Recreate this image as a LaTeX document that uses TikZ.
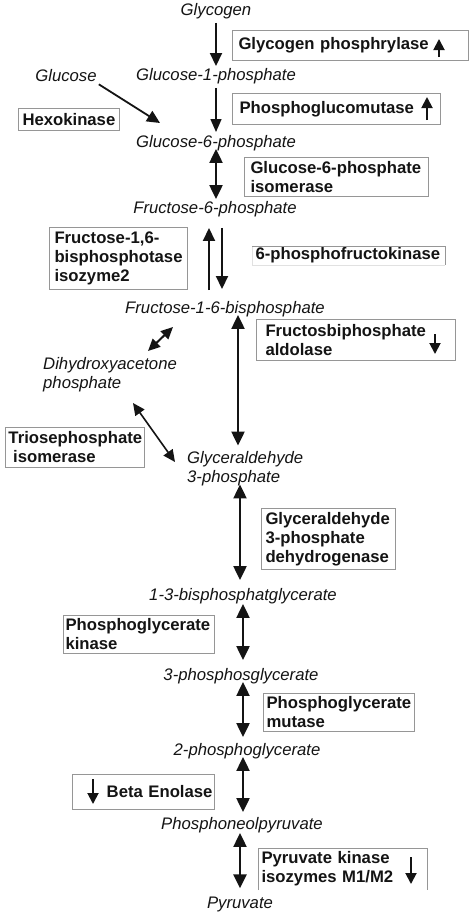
\documentclass[tikz,border=0pt]{standalone}
\usepackage{fontspec}
\setmainfont{Liberation Sans}
\usetikzlibrary{arrows.meta}
\definecolor{boxgray}{RGB}{150,150,150}
\definecolor{faintgray}{RGB}{225,225,225}
\definecolor{ink}{RGB}{20,20,20}
\begin{document}
\begin{tikzpicture}[x=1pt,y=-1pt,
  met/.style={font=\fontsize{16.7}{19}\selectfont\itshape, inner sep=2pt, text=ink},
  enz/.style={draw=boxgray, line width=1pt, anchor=north west, inner xsep=0pt, inner ysep=0pt,
    align=left, text=ink, font=\fontsize{16.7}{19}\selectfont\bfseries,
    execute at begin node={\exhyphenpenalty=10000\hyphenpenalty=10000}},
  boxline/.style={draw=boxgray, line width=1pt},
  faintline/.style={draw=faintgray, line width=1pt},
  arr/.style={draw=ink, line width=2pt, -{Triangle[length=13pt,width=12pt]}},
  thinarr/.style={draw=ink, line width=1.4pt, -{Triangle[length=13pt,width=11pt]}},
  dbl/.style={draw=ink, line width=2.4pt, {Triangle[length=14pt,width=13pt]}-{Triangle[length=14pt,width=13pt]}},
  sdbl/.style={draw=ink, line width=1.6pt, {Triangle[length=12pt,width=11pt]}-{Triangle[length=12pt,width=11pt]}},
  ind/.style={draw=ink, line width=1.9pt, -{Triangle[length=11pt,width=11pt]}}
]
\useasboundingbox[fill=white] (0,0) rectangle (474,918);

% metabolites
\node[met] (glycogen) at (216,11) {Glycogen};
\node[met] (g1p) at (216,76) {Glucose-1-phosphate};
\node[met] (glucose) at (66,76) {Glucose};
\node[met] (g6p) at (216,143) {Glucose-6-phosphate};
\node[met] (f6p) at (215,209) {Fructose-6-phosphate};
\node[met] (f16bp) at (225,309) {Fructose-1-6-bisphosphate};
\node[met, anchor=west, align=left] (dhap) at (41,375) {Dihydroxyacetone\\phosphate};
\node[met, anchor=west, align=left] (g3p) at (185,469) {Glyceraldehyde\\3-phosphate};
\node[met] (bpg) at (243,596) {1-3-bisphosphatglycerate};
\node[met] (pg3) at (241,676) {3-phosphosglycerate};
\node[met] (pg2) at (247,751) {2-phosphoglycerate};
\node[met] (pep) at (242,825) {Phosphoneolpyruvate};
\node[met] (pyr) at (240,904) {Pyruvate};

% enzymes
\node[enz, minimum width=236pt, minimum height=30pt, text width=224pt] (gp) at (232,30) {Glycogen phosphrylase};
\node[enz, minimum width=208pt, minimum height=31pt, text width=194pt] (pgm) at (232,93) {Phosphoglucomutase};
\node[enz, minimum width=101pt, minimum height=22pt, text width=93pt] (hk) at (18,108) {Hexokinase};
\node[enz, minimum width=184pt, minimum height=39pt, text width=172pt] (gpi) at (244,157) {Glucose-6-phosphate\\isomerase};
\node[enz, minimum width=138pt, minimum height=62pt, text width=128pt] (fbp) at (49,227) {Fructose-1,6-\\bisphosphotase\\isozyme2};
\node[enz, draw=none, minimum width=192pt, minimum height=18pt, text width=186pt] (pfk) at (252,246) {6-phosphofructokinase};
\draw[faintline] (pfk.north west) -- (pfk.south west) -- (pfk.south east);
\draw[boxline] (pfk.north west) -- (pfk.north east) -- (pfk.south east);
\node[enz, minimum width=199pt, minimum height=41pt, text width=181pt] (ald) at (256,319) {Fructosbiphosphate\\aldolase};
\node[enz, minimum width=139pt, minimum height=40pt, text width=133pt] (tpi) at (5,427) {Triosephosphate\\\hspace*{0.278em}isomerase};
\node[enz, minimum width=134pt, minimum height=61pt, text width=126pt] (gapdh) at (261,508) {Glyceraldehyde\\3-phosphate\\dehydrogenase};
\node[enz, minimum width=151pt, minimum height=38pt, text width=147pt] (pgk) at (63,615) {Phosphoglycerate\\kinase};
\node[enz, minimum width=151pt, minimum height=38pt, text width=145pt] (pgam) at (263,693) {Phosphoglycerate\\mutase};
\node[enz, minimum width=142pt, minimum height=35pt, text width=138pt, align=right] (eno) at (72,774) {Beta Enolase};
\node[enz, draw=none, minimum width=168pt, minimum height=41pt, text width=162pt] (pk) at (258,848) {Pyruvate kinase\\isozymes M1/M2};
\draw[boxline] (pk.south west) -- (pk.north west) -- (pk.north east) -- (pk.south east);

% up/down indicators inside boxes
\draw[ind] (439,57) -- (439,39);
\draw[ind] (427,120) -- (427,97);
\draw[ind] (435,334) -- (435,354);
\draw[ind] (93,779) -- (93,804);
\draw[ind] (411,857) -- (411,884);

% connectors
\coordinate (g6pin) at (160,123);
\coordinate (dhapA) at (148,351);
\coordinate (f16A) at (173,327);
\coordinate (dhapB) at (133,403);
\coordinate (g3pA) at (175,462);

\draw[arr, shorten <=2pt] (glycogen.south -| 216,0) -- (g1p.north -| 216,0);
\draw[thinarr, shorten <=2pt, shorten >=1pt] (g1p.south -| 216,0) -- (g6p.north -| 216,0);
\draw[arr, line width=1.8pt] (glucose.south east) -- (g6pin);
\draw[dbl, shorten <=-4pt] (g6p.south -| 216,0) -- (f6p.north -| 216,0);
\draw[arr, shorten <=9pt, shorten >=10pt] (f6p.south -| 222,0) -- (f16bp.north -| 222,0);
\draw[arr, shorten <=9pt, shorten >=9pt] (f16bp.north -| 209,0) -- (f6p.south -| 209,0);
\draw[dbl, shorten <=-4pt, shorten >=4pt] (f16bp.south -| 238,0) -- (g3p.north -| 238,0);
\draw[sdbl, line width=2pt] (f16A) -- (dhapA);
\draw[sdbl] (dhapB) -- (g3pA);
\draw[dbl, shorten <=-4pt, shorten >=6pt] (g3p.south -| 240,0) -- (bpg.north -| 240,0);
\draw[dbl, shorten <=-2pt, shorten >=6pt] (bpg.south -| 243,0) -- (pg3.north -| 243,0);
\draw[dbl, shorten <=-4pt, shorten >=4pt] (pg3.south -| 243,0) -- (pg2.north -| 243,0);
\draw[dbl, shorten <=-4pt, shorten >=3pt] (pg2.south -| 243,0) -- (pep.north -| 243,0);
\draw[dbl, shorten <=-2pt, shorten >=6pt] (pep.south -| 240,0) -- (pyr.north -| 240,0);
\end{tikzpicture}
\end{document}
